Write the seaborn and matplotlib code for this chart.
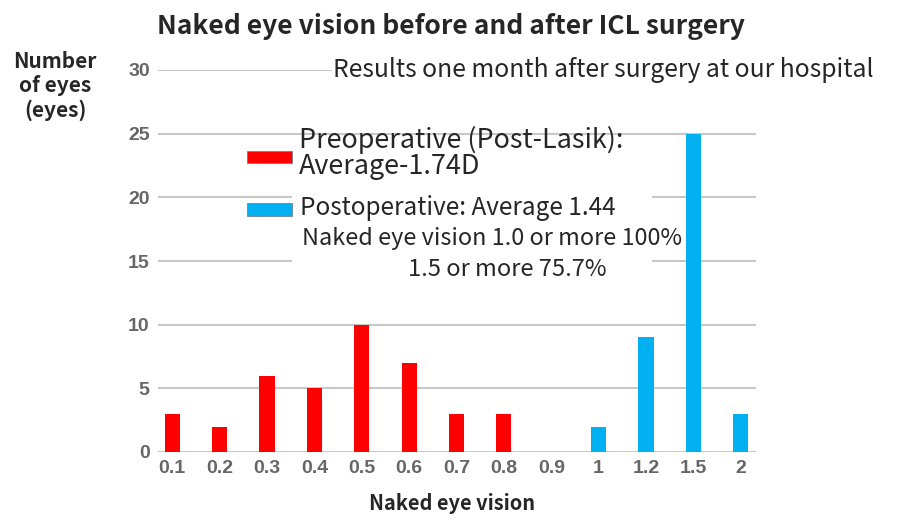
import pandas as pd
import matplotlib
matplotlib.use('Agg')
import matplotlib.pyplot as plt
import matplotlib.patches as mpatches
import seaborn as sns

# data
vision = ['0.1', '0.2', '0.3', '0.4', '0.5', '0.6', '0.7', '0.8', '0.9', '1', '1.2', '1.5', '2']
pre_eyes = [3, 2, 6, 5, 10, 7, 3, 3, 0, 0, 0, 0, 0]
post_eyes = [0, 0, 0, 0, 0, 0, 0, 0, 0, 2, 9, 25, 3]
y_ticks = [0, 5, 10, 15, 20, 25, 30]

RED = '#FF0000'
BLUE = '#00B0F0'

df = pd.DataFrame({
    'vision': vision * 2,
    'eyes': pre_eyes + post_eyes,
    'group': ['pre'] * len(vision) + ['post'] * len(vision),
})
df = df[df['eyes'] > 0]

sns.set_theme(style='white')
plt.rcParams['font.family'] = ['Noto Sans CJK JP', 'DejaVu Sans']

W, H = 900, 524
fig = plt.figure(figsize=(9, 5.24), dpi=100)
ax = fig.add_axes([158 / W, 1 - 452 / H, (756 - 158) / W, (452 - 70) / H])


def fx(px):
    return px / W


def fy(py):
    return 1 - py / H


sns.barplot(data=df, x='vision', y='eyes', hue='group', order=vision,
            hue_order=['pre', 'post'], palette={'pre': RED, 'post': BLUE},
            dodge=False, width=0.32, linewidth=0, saturation=1,
            legend=False, ax=ax)

ax.set_ylim(0, 30)
ax.set_xlim(-0.3, 12.32)
ax.set_yticks(y_ticks)
ax.yaxis.grid(True, color='#C8C8C8', linewidth=1.5)
ax.set_axisbelow(True)
for s in ax.spines.values():
    s.set_visible(False)
ax.tick_params(axis='both', length=0, labelsize=14, labelcolor='#666666')
ax.tick_params(axis='y', pad=6)
ax.tick_params(axis='x', pad=6)
for lab in ax.get_xticklabels() + ax.get_yticklabels():
    lab.set_fontfamily('Liberation Sans')
    lab.set_fontweight('bold')
ax.set_xlabel('')
ax.set_ylabel('')

# titles and axis captions
fig.text(fx(451), fy(27), 'Naked eye vision before and after ICL surgery',
         ha='center', va='center', fontsize=19, fontweight='bold')
fig.text(fx(333), fy(70), 'Results one month after surgery at our hospital',
         ha='left', va='center', fontsize=17.8, zorder=5,
         bbox=dict(facecolor='white', edgecolor='none', pad=1))
fig.text(fx(55), fy(86), 'Number\nof eyes\n(eyes)', ha='center', va='center',
         fontsize=15, fontweight='bold', linespacing=1.18)
fig.text(fx(452), fy(503), 'Naked eye vision', ha='center', va='center',
         fontsize=14.4, fontweight='bold')

# white box behind the legend block
fig.add_artist(mpatches.Rectangle((fx(292), fy(290)), fx(652) - fx(292), fy(142) - fy(290),
                                  transform=fig.transFigure, facecolor='white',
                                  edgecolor='none', zorder=2))

# legend patches
fig.add_artist(mpatches.Rectangle((fx(247), fy(163)), fx(292) - fx(247), fy(151) - fy(163),
                                  transform=fig.transFigure, facecolor=RED,
                                  edgecolor='#7080A0', linewidth=0.6, zorder=3))
fig.add_artist(mpatches.Rectangle((fx(247), fy(216)), fx(292) - fx(247), fy(203) - fy(216),
                                  transform=fig.transFigure, facecolor=BLUE,
                                  edgecolor='#7080A0', linewidth=0.6, zorder=3))

fig.text(fx(299), fy(153), 'Preoperative (Post-Lasik):\nAverage-1.74D', ha='left', va='center',
         fontsize=19.4, linespacing=0.95, zorder=4)
fig.text(fx(300), fy(208), 'Postoperative: Average 1.44', ha='left', va='center',
         fontsize=17.5, zorder=4)
fig.text(fx(302), fy(239), 'Naked eye vision 1.0 or more 100%', ha='left', va='center',
         fontsize=16.9, zorder=4)
fig.text(fx(408), fy(269), '1.5 or more 75.7%', ha='left', va='center',
         fontsize=17, zorder=4)

fig.savefig('out.png', dpi=100, facecolor='white')
